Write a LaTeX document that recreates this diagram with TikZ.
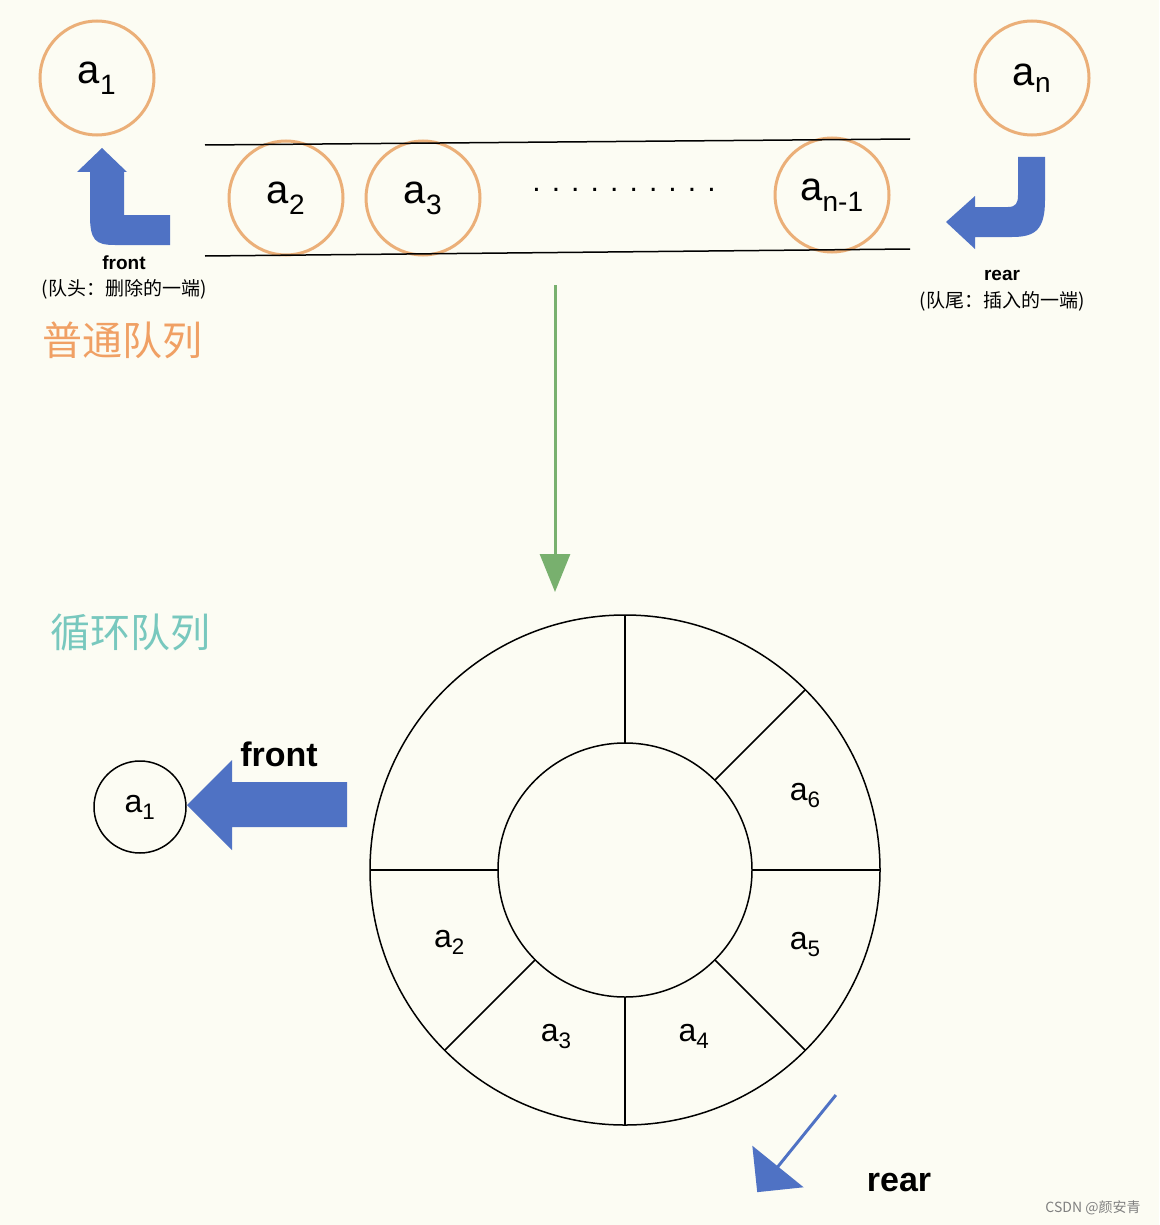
\documentclass[tikz,border=0pt]{standalone}
\usepackage{fontspec}
\setmainfont{Liberation Sans}
\newfontfamily\cjk{Noto Sans CJK SC}
\usetikzlibrary{arrows.meta,shapes.arrows}
\definecolor{paper}{RGB}{252,252,243}
\definecolor{ring}{RGB}{235,175,120}
\definecolor{pblue}{RGB}{79,114,196}
\definecolor{pgreen}{RGB}{120,176,110}
\definecolor{hand}{RGB}{240,160,100}
\definecolor{handteal}{RGB}{120,200,190}
\tikzset{every picture/.style={line width=1.5pt}}
\tikzset{
  elem/.style={circle,draw=ring,line width=3pt,minimum size=114pt,inner sep=0pt,font=\fontsize{40}{40}\selectfont},
  cell/.style={font=\fontsize{32}{32}\selectfont},
  bluearrow/.style={fill=pblue,draw=none}
}
\begin{document}
\begin{tikzpicture}[x=1pt,y=1pt,yscale=-1,xscale=1]
\fill[paper] (0,0) rectangle (1159,1225);
\useasboundingbox (0,0) rectangle (1159,1225);

% Ordinary queue
\node[elem] (top a1) at (97,78) {a\textsubscript{1}};
\node[elem] (top an) at (1032,78) {a\textsubscript{n}};
\node[elem] (top a2) at (286,198) {a\textsubscript{2}};
\node[elem] (top a3) at (423,198) {a\textsubscript{3}};
\node[elem] (top an1) at (832,195) {a\textsubscript{n-1}};
\node[font=\fontsize{30}{30}\selectfont] (dots) at (624,190) {. . . . . . . . . .};
\draw (205,145) -- (910,139);
\draw (205,256) -- (910,249);

%Bent arrows
\fill[bluearrow] (170,215) -- (124,215) -- (124,172) -- (127,172) -- (102,148) -- (77,172) -- (90,172) -- (90,215) .. controls (90,240) and (95,245) .. (115,245) -- (170,245) -- cycle;
\fill[bluearrow] (1018,157) -- (1045,157) -- (1045,200) .. controls (1045,230) and (1035,237) .. (1012,237) -- (975,237) -- (975,249) -- (946,222) -- (975,196) -- (975,207) -- (1008,207) .. controls (1016,207) and (1018,203) .. (1018,195) -- cycle;

% Text Node
\node[font=\bfseries\fontsize{19}{19}\selectfont] (front top) at (124,263) {front};
\node[font=\cjk\fontsize{19}{19}\selectfont] (front note) at (124,289) {(队头：删除的一端)};
\node[font=\bfseries\fontsize{19}{19}\selectfont] (rear top) at (1002,275) {rear};
\node[font=\cjk\fontsize{19}{19}\selectfont] (rear note) at (1002,301) {(队尾：插入的一端)};
\node[font=\cjk\fontsize{40}{40}\selectfont,text=hand] (plain) at (122,340) {普通队列};
\node[font=\cjk\fontsize{40}{40}\selectfont,text=handteal] (circular) at (130,632) {循环队列};

% Green arrow
\coordinate (g start) at (555,285);
\coordinate (g end) at (555,592);
\draw[pgreen,line width=3pt,-{Triangle[width=30pt,length=38pt]}] (g start) -- (g end);

% Circular queue
\coordinate (c) at (625,870);
\draw (c) circle[radius=255];
\draw (c) circle[radius=127];
\foreach \ang in {0,45,90,135,180,270,315}
  \draw ([shift={(\ang:127)}]c) -- ([shift={(\ang:255)}]c);
\node[cell] (c a2) at ([shift={(157.5:190)}]c) {a\textsubscript{2}};
\node[cell] (c a3) at ([shift={(112.5:180)}]c) {a\textsubscript{3}};
\node[cell] (c a4) at ([shift={(67.5:180)}]c) {a\textsubscript{4}};
\node[cell] (c a5) at ([shift={(22.5:195)}]c) {a\textsubscript{5}};
\node[cell] (c a6) at ([shift={(-22.5:195)}]c) {a\textsubscript{6}};

\node[circle,draw,minimum size=92pt,inner sep=0pt,cell] (out a1) at (140,807) {a\textsubscript{1}};
\fill[bluearrow] (347,782) -- (232,782) -- (232,760) -- (187,805) -- (232,850) -- (232,827) -- (347,827) -- cycle;
\node[font=\bfseries\fontsize{34}{34}\selectfont] (front low) at (279,754) {front};
\node[single arrow,fill=pblue,minimum height=125pt,minimum width=66pt,single arrow head extend=16pt,inner sep=0pt,shape border rotate=0,rotate=-129] (rear arrow) at (797,1143) {};
\node[font=\bfseries\fontsize{34}{34}\selectfont] (rear low) at (899,1182) {rear};
\node[font=\cjk\fontsize{14}{14}\selectfont,text=gray] (mark) at (1093,1208) {CSDN @颜安青};
\end{tikzpicture}
\end{document}
